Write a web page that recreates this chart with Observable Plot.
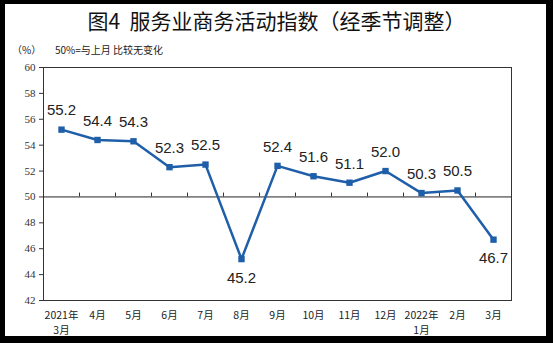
<!DOCTYPE html>
<html>
<head>
<meta charset="utf-8">
<script src="https://cdn.jsdelivr.net/npm/d3@7"></script>
<script src="https://cdn.jsdelivr.net/npm/@observablehq/plot@0.6"></script>
<style>
  html, body { margin: 0; padding: 0; background: #000; }
  #wrap { position: relative; width: 553px; height: 343px; background: #000; overflow: hidden; }
  #paper { position: absolute; left: 5px; top: 4px; width: 541px; height: 332px; background: #fff; }
  #title { position: absolute; left: 0; width: 553px; top: 6px; text-align: center;
           font-family: "Noto Sans CJK SC", sans-serif; font-size: 21px; color: #111; line-height: 28px; }
  #unit { position: absolute; left: 12px; top: 42px; font-family: "Noto Sans CJK SC", sans-serif; font-size: 10px; color: #222; }
  #note { position: absolute; left: 55px; top: 42px; font-family: "Noto Sans CJK SC", sans-serif; font-size: 10px; color: #222; }
  #chart { position: absolute; left: 0; top: 0; }
  #chart svg { background: transparent !important; }
</style>
</head>
<body>
<div id="wrap">
  <div id="paper"></div>
  <div id="title">图4&nbsp;&nbsp;服务业商务活动指数（经季节调整）</div>
  <div id="unit">（%）</div>
  <div id="note">50%=与上月 比较无变化</div>
  <div id="chart"></div>
</div>
<script>
const months = ["2021年\n3月", "4月", "5月", "6月", "7月", "8月", "9月", "10月", "11月", "12月", "2022年\n1月", "2月", "3月"];
const values = [55.2, 54.4, 54.3, 52.3, 52.5, 45.2, 52.4, 51.6, 51.1, 52.0, 50.3, 50.5, 46.7];
const labelSide = ["above", "above", "above", "above", "above", "below", "above", "above", "above", "above", "above", "above", "below"];
const yTicks = [42, 44, 46, 48, 50, 52, 54, 56, 58, 60];
const baseline = 50;

const data = values.map((v, i) => ({i, v, side: labelSide[i], label: v.toFixed(1)}));
const bounds = d3.range(0.5, months.length - 1, 1);
const blue = "#1f5ea8";

const chart = Plot.plot({
  width: 553,
  height: 343,
  marginTop: 67,
  marginBottom: 43,
  marginLeft: 43,
  marginRight: 42,
  style: {background: "transparent", fontFamily: "'Liberation Sans', Arial, sans-serif"},
  x: {domain: [-0.5, months.length - 0.5], axis: null, label: null},
  y: {domain: [42, 60], axis: null, label: null},
  marks: [
    Plot.frame({stroke: "#333", strokeWidth: 1}),
    Plot.ruleY([baseline], {stroke: "#222", strokeWidth: 1}),
    Plot.ruleX(bounds, {y1: baseline, y2: baseline + 0.3, stroke: "#333"}),
    Plot.axisY({ticks: yTicks, label: null, tickSize: 4, tickPadding: 4, fontSize: 11, stroke: "#333", color: "#333",
      fontFamily: "'Liberation Serif', serif"}),
    Plot.axisX({ticks: d3.range(months.length), label: null, tickSize: 0, tickPadding: 8, fontSize: 10.5, lineHeight: 1.4,
      tickFormat: i => months[i], color: "#222", fontFamily: "'Noto Sans CJK SC', sans-serif"}),
    Plot.line(data, {x: "i", y: "v", stroke: blue, strokeWidth: 2.5}),
    Plot.dot(data, {x: "i", y: "v", symbol: "square", r: 3.6, fill: blue, stroke: null}),
    Plot.text(data.filter(d => d.side === "above"), {x: "i", y: "v", text: "label", dy: -19, fontSize: 15, fill: "#222"}),
    Plot.text(data.filter(d => d.side === "below"), {x: "i", y: "v", text: "label", dy: 19, fontSize: 15, fill: "#222"})
  ]
});
document.getElementById("chart").append(chart);
</script>
</body>
</html>
